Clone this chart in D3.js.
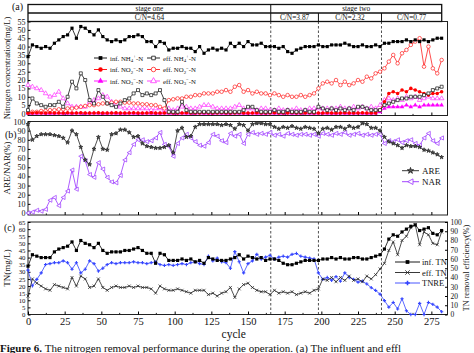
<!DOCTYPE html>
<html><head><meta charset="utf-8">
<script src="https://cdn.jsdelivr.net/npm/d3@7"></script>
<style>body{margin:0;background:#fff}svg{display:block}svg text{font-family:"Liberation Serif","DejaVu Serif","Times New Roman",serif !important;fill:#111}</style>
</head><body><svg id="c" width="474" height="353"></svg>
<script>
const cycles=[0,3,6,9,12,15,18,21,24,27,30,33,36,39,42,45,48,51,54,57,60,63,66,69,72,75,78,81,84,87,90,93,96,99,102,105,108,111,114,117,120,123,126,129,132,135,138,141,144,147,150,153,156,159,162,165,168,171,174,177,180,183,186,189,192,195,198,201,204,207,210,213,216,219,222,225,228,231,234,237,240,243,246,249,252,255,258,261,264,267,270,273,276,279,282];
const infNH4=[34,41,40,39,40,39,42,44,46,47, 51,45,52,51,49,47,50,46,44,43, 44,43,44,46,46,47,46,43,43,40, 43,42,38,39,39,40,39,39,37,40, 36,38,39,38,39,38,42,40,42,40, 43,41,41,42,40,40,40,39,40,37, 36,38,39,40,40,40,41,40,40,41, 41,41,42,41,40,40,41,40,40,41, 40,42,42,43,43,43,44,43,44,43, 44,43,44,45,45];
const effNH4=[2,9,6,5,4,5,5,7,4,10, 19,15,24,20,8,6,14,10,6,5, 4,6,8,9,12,14,11,12,11,12, 14,8,1,1,1,7,2,1,1,1, 1,1,1,1,1,1,1,1,1,2, 4,4,2,1,1,1,2,1,1,2, 1,1,1,2,1,1,4,3,2,3, 2,3,2,3,2,4,4,3,2,2, 2,5,6,7,8,9,9,10,10,10, 11,12,14,15,16];
const infNO2=[0.3,0.3,0.4,0.3,0.3,0.4,0.3,0.3,0.3,0.4, 0.3,0.3,0.4,0.3,0.3,0.3,0.4,0.3,0.3,0.3, 0.4,0.3,0.3,0.3,0.4,0.3,0.3,0.3,0.4,0.3, 0.3,0.3,0.4,0.3,0.3,0.3,0.4,0.3,0.3,0.3, 0.4,0.3,0.3,0.3,0.4,0.3,0.3,0.3,0.4,0.3, 0.3,0.3,0.4,0.3,0.3,0.3,0.4,0.3,0.3,0.3, 0.4,0.3,0.3,0.3,0.4,0.3,0.3,0.3,0.4,0.3, 0.3,0.3,0.4,0.3,0.3,0.3,0.4,0.3,0.3,0.3, 2,7,12,13,12,14,13,15,14,13, 12,11,12,12,13];
const effNO2=[0.5,1,1,1.5,1.5,2,2,2.5,2.5,3, 3,3.5,4,4.5,5,5,5.5,6,6,6.5, 7,7,6.5,6.5,6,6,5.5,5.5,5,5, 4,3,8,8.5,9,9,10,10,11,11, 12,12,12,13,13,14,13,16,17,13, 14,12,13,12,12,11,12,11,10,11, 10,10,11,10,11,12,15,18,19,18, 20,17,19,17,18,20,19,22,21,24, 25,27,31,35,30,36,38,41,43,45, 28,40,27,24,32];
const infNO3=[0.1,0.1,0.1,0.2,0.1,0.1,0.1,0.2,0.1,0.1, 0.1,0.2,0.1,0.1,0.1,0.2,0.1,0.1,0.1,0.2, 0.1,0.1,0.1,0.2,0.1,0.1,0.1,0.2,0.1,0.1, 0.1,0.2,0.1,0.1,0.1,0.2,0.1,0.1,0.1,0.2, 0.1,0.1,0.1,0.2,0.1,0.1,0.1,0.2,0.1,0.1, 0.1,0.2,0.1,0.1,0.1,0.2,0.1,0.1,0.1,0.2, 0.1,0.1,0.1,0.2,0.1,0.1,0.1,0.2,0.1,0.1, 0.1,0.2,0.1,0.1,0.1,0.2,0.1,0.1,0.1,0.2, 1,3,4,4,4,4,5,4,5,4, 5,5,5,5,5];
const effNO3=[17,16,15,14,12,10,11,13,9,6, 4,4,4,4,7,8,9,11,10,7, 5,4,3,3,3,3,3,3,2,3, 3,2,3,2,3,4,4,3,3,4, 5,5,4,3,3,3,3,4,5,3, 3,3,2,3,3,2,2,3,2,2, 2,3,2,2,3,3,3,3,3,3, 3,4,3,3,4,3,4,3,4,3, 5,8,9,8,9,8,10,9,10,8, 9,10,9,9,9];
const ARE=[97,80,84,86,86,86,85,84,82,77, 90,86,72,58,53,70,83,70,69,86, 87,91,91,88,83,84,76,73,72,71, 71,72,74,66,90,93,83,84,94,97, 97,97,97,97,96,97,96,92,97,96, 90,97,98,98,97,97,94,92,94,93, 95,93,92,94,93,92,87,92,93,91, 94,94,92,95,93,94,98,97,93,93, 90,83,78,76,74,71,74,73,73,72, 69,68,66,64,61];
const NAR=[0,1,3,2,4,14,17,8,17,24, 47,26,62,57,42,39,55,48,39,34, 33,41,58,66,75,80,80,78,79,82, 88,75,73,62,76,82,86,82,78,74, 73,77,86,84,79,77,87,84,86,76, 86,88,86,87,86,88,85,86,84,87, 86,85,86,86,85,86,84,87,86,85, 87,86,88,85,86,87,85,86,85,86, 86,76,79,78,80,77,79,80,76,74, 82,87,79,76,82];
const infTN=[34,42,41,40,40,40,44,46,47,48, 51,45,52,50,49,47,50,45,43,44, 44,44,45,45,46,47,45,43,43,36, 43,42,38,38,38,39,38,39,37,38, 36,40,39,38,38,38,39,40,42,39, 41,40,39,40,38,39,39,38,36,35, 35,36,37,38,38,38,38,39,39,40, 39,40,39,39,40,40,39,39,40,41, 42,46,53,56,55,58,60,62,63,59, 60,61,57,56,59];
const effTN=[13,25,22,20,18,17,21,20,19,18, 26,20,27,25,19,20,25,19,17,19, 20,19,19,20,19,20,19,19,18,15, 20,18,17,17,18,17,16,15,17,17, 17,14,15,13,15,16,19,12,18,21, 22,19,17,16,16,14,17,15,16,15, 16,14,15,16,15,17,18,25,24,26, 23,26,24,27,24,25,23,27,25,28, 32,36,45,51,42,52,55,61,63,49, 58,56,50,49,58];
const TNRE=[48,31,38,45,54,55,56,56,58,56, 49,56,45,49,58,55,47,50,54,56, 55,56,56,56,57,56,56,55,56,57, 54,53,54,53,54,55,54,56,57,55, 54,63,58,61,57,56,50,68,57,45, 55,58,65,60,62,64,60,62,63,62, 65,66,63,62,61,60,45,38,40,37, 41,36,45,40,38,35,36,33,29,26, 22,15,8,13,6,17,4,0,0,12, 0,13,11,8,3];
const stageBreaks=[165.5,198,241];
const stageLabels=["stage one","stage two"];
const cnLabels=["C/N=4.64","C/N=3.87","C/N=2.32","C/N=0.77"];
const xTicks=[0,25,50,75,100,125,150,175,200,225,250,275];
const xMinor=[12.5,37.5,62.5,87.5,112.5,137.5,162.5,187.5,212.5,237.5,262.5];
const yTicksA=[0,5,10,15,20,25,30,35,40,45,50,55];
const yTicksB=[0,10,20,30,40,50,60,70,80,90,100];
const yTicksC=[0,5,10,15,20,25,30,35,40,45,50,55,60,65];
const yTicksR=[0,10,20,30,40,50,60,70,80,90,100];

const FONT='"Liberation Serif","DejaVu Serif",serif';
const svg=d3.select("#c");
const x=d3.scaleLinear([0,286],[28,447.5]);
const yA=d3.scaleLinear([0,55],[113.5,21.5]);
const yB=d3.scaleLinear([0,100],[213,121.5]);
const yC=d3.scaleLinear([0,65],[314.5,222]);
const yR=d3.scaleLinear([0,100],[314.5,222]);
const frames=[{t:21.5,b:115.5},{t:121.5,b:215},{t:222,b:314.5}];

const leftTri={draw(c,s){const r=Math.sqrt(s)/1.6;c.moveTo(-r,0);c.lineTo(r*0.9,-r);c.lineTo(r*0.9,r);c.closePath();}};
const xMark={draw(c,s){const r=Math.sqrt(s)/2;c.moveTo(-r,-r);c.lineTo(r,r);c.moveTo(-r,r);c.lineTo(r,-r);}};

function txt(sel){return sel.style("font-family",FONT);}

frames.forEach((f,i)=>{
  svg.append("rect").attr("x",x(0)).attr("y",f.t).attr("width",x(286)-x(0)).attr("height",f.b-f.t).attr("fill","none").attr("stroke","#222").attr("stroke-width",1);
  const ax=svg.append("g").attr("transform",`translate(0,${f.b})`).call(d3.axisBottom(x).tickValues(xTicks).tickSize(-3).tickPadding(3.5).tickFormat(i===2?d3.format("d"):""));
  ax.select(".domain").remove();
  txt(ax.selectAll("text").attr("font-size",10.5));
  svg.append("g").selectAll("line").data(xMinor).join("line").attr("x1",d=>x(d)).attr("x2",d=>x(d)).attr("y1",f.b).attr("y2",f.b-1.6).attr("stroke","#222");
  svg.append("g").selectAll("line").data(stageBreaks).join("line").attr("x1",d=>x(d)).attr("x2",d=>x(d)).attr("y1",f.t).attr("y2",f.b).attr("stroke","#222").attr("stroke-width",0.8).attr("stroke-dasharray","2.5,2");
});
function leftAxis(y,ticks,fs){
  const g=svg.append("g").attr("transform",`translate(${x(0)},0)`).call(d3.axisLeft(y).tickValues(ticks).tickSize(-2.5).tickPadding(2.5));
  g.select(".domain").remove();
  txt(g.selectAll("text").attr("font-size",fs));
}
leftAxis(yA,yTicksA,8);
leftAxis(yB,yTicksB,8);
leftAxis(yC,yTicksC,6.8);
const gr=svg.append("g").attr("transform",`translate(${x(286)},0)`).call(d3.axisRight(yR).tickValues(yTicksR).tickSize(-2.5).tickPadding(3));
gr.select(".domain").remove();txt(gr.selectAll("text").attr("font-size",7.5));

function series(yv,yS,color,sym,size,fill,stroke,lw){
  const g=svg.append("g");
  const pts=cycles.map((c,i)=>[c,yv[i]]);
  g.append("path").datum(pts).attr("d",d3.line(d=>x(d[0]),d=>yS(d[1]))).attr("fill","none").attr("stroke",color).attr("stroke-width",lw||0.8);
  g.selectAll("path.m").data(pts).join("path").attr("class","m")
   .attr("transform",d=>`translate(${x(d[0])},${yS(d[1])})`).attr("d",d3.symbol(sym,size)())
   .attr("fill",fill).attr("stroke",stroke).attr("stroke-width",0.7);
}
series(effNO3,yA,"#FF33FF",d3.symbolTriangle,9,"#fff","#FF33FF");
series(infNO3,yA,"#FF00FF",d3.symbolTriangle,9,"#FF00FF","none");
series(effNO2,yA,"#FF2020",d3.symbolCircle,10,"#fff","#FF2020");
series(infNO2,yA,"#FF0000",d3.symbolCircle,10,"#FF0000","none");
series(effNH4,yA,"#111",d3.symbolSquare,9,"#fff","#111");
series(infNH4,yA,"#000",d3.symbolSquare,10,"#000","none");
series(NAR,yB,"#9933FF",leftTri,11,"#fff","#9933FF");
series(ARE,yB,"#222",d3.symbolStar,5,"#555","#222");
series(TNRE,yR,"#3344FF",d3.symbolCross,6,"#3344FF","none");
series(effTN,yC,"#222",xMark,9,"none","#222");
series(infTN,yC,"#000",d3.symbolSquare,10,"#000","none");

const hx0=x(0),hx1=441.7,ht=4.5,hm=13,hb=21.5;
svg.append("rect").attr("x",hx0).attr("y",ht).attr("width",hx1-hx0).attr("height",hb-ht).attr("fill","#fff").attr("stroke","#111").attr("stroke-width",1.3);
svg.append("line").attr("x1",hx0).attr("x2",hx1).attr("y1",hm).attr("y2",hm).attr("stroke","#111").attr("stroke-width",1.3);
svg.append("line").attr("x1",x(stageBreaks[0])).attr("x2",x(stageBreaks[0])).attr("y1",ht).attr("y2",hb).attr("stroke","#111").attr("stroke-width",1);
[stageBreaks[1],stageBreaks[2]].forEach(b=>svg.append("line").attr("x1",x(b)).attr("x2",x(b)).attr("y1",hm).attr("y2",hb).attr("stroke","#111").attr("stroke-width",1));
const sb=[hx0,x(stageBreaks[0]),hx1];
stageLabels.forEach((s,i)=>txt(svg.append("text").attr("x",(sb[i]+sb[i+1])/2).attr("y",hm-1.8).attr("text-anchor","middle").attr("font-size",7.4).text(s)));
const cb=[hx0,x(stageBreaks[0]),x(stageBreaks[1]),x(stageBreaks[2]),hx1];
cnLabels.forEach((s,i)=>txt(svg.append("text").attr("x",(cb[i]+cb[i+1])/2).attr("y",hb-2).attr("text-anchor","middle").attr("font-size",7.4).text(s)));

function vtext(tx,ty,s,fs){txt(svg.append("text").attr("transform",`translate(${tx},${ty}) rotate(-90)`).attr("text-anchor","middle").attr("font-size",fs).text(s));}
vtext(10,68,"Nitrogen concentration(mg/L)",8.5);
vtext(10,168,"ARE/NAR(%)",9);
vtext(10,268,"TN(mg/L)",9);
vtext(469,268,"TN removal efficiency(%)",8.2);
txt(svg.append("text").attr("x",12).attr("y",10).attr("font-size",10).text("(a)"));
txt(svg.append("text").attr("x",5).attr("y",138).attr("font-size",10).text("(b)"));
txt(svg.append("text").attr("x",4).attr("y",231).attr("font-size",10).text("(c)"));
txt(svg.append("text").attr("x",(x(0)+x(286))/2-4).attr("y",338).attr("text-anchor","middle").attr("font-size",11.5).text("cycle"));
const cap=txt(svg.append("text").attr("x",0).attr("y",351.5).attr("font-size",11));
cap.append("tspan").attr("font-weight","bold").text("Figure 6. ");
cap.append("tspan").text("The nitrogen removal performance during the operation. (a) The influent and effl");

function legSym(lx,ly,len,color,sym,size,fill,stroke){
  svg.append("line").attr("x1",lx).attr("x2",lx+len).attr("y1",ly).attr("y2",ly).attr("stroke",color).attr("stroke-width",0.9);
  svg.append("path").attr("transform",`translate(${lx+len/2},${ly})`).attr("d",d3.symbol(sym,size)()).attr("fill",fill).attr("stroke",stroke).attr("stroke-width",0.8);
}
function chemLabel(tx,ty,pre,sub,sup){
  const t=txt(svg.append("text").attr("x",tx).attr("y",ty+2.5).attr("font-size",6.8));
  t.append("tspan").text(pre);
  t.append("tspan").attr("font-size",4.8).attr("dy",1.5).text(sub);
  t.append("tspan").attr("font-size",4.8).attr("dy",-4).text(sup);
  t.append("tspan").attr("dy",2.5).text("-N");
}
const legA=[
 ["inf. NH","4","+","#000",d3.symbolSquare,14,"#000","none"],
 ["eff. NH","4","+","#111",d3.symbolSquare,13,"#fff","#111"],
 ["inf. NO","2","−","#FF0000",d3.symbolCircle,16,"#FF0000","none"],
 ["eff. NO","2","−","#FF2020",d3.symbolCircle,16,"#fff","#FF2020"],
 ["inf. NO","3","−","#FF00FF",d3.symbolTriangle,15,"#FF00FF","none"],
 ["eff. NO","3","−","#FF33FF",d3.symbolTriangle,15,"#fff","#FF33FF"]];
legA.forEach((d,i)=>{
  const col=i%2,row=Math.floor(i/2);
  const lx=col?147:94, ly=58+row*11.5;
  legSym(lx,ly,13,d[3],d[4],d[5],d[6],d[7]);
  chemLabel(lx+16,ly,d[0],d[1],d[2]);
});
legSym(402,170.7,17,"#222",d3.symbolStar,12,"#555","#222");
txt(svg.append("text").attr("x",422).attr("y",174).attr("font-size",9).text("ARE"));
legSym(402,181.7,17,"#9933FF",leftTri,20,"#fff","#9933FF");
txt(svg.append("text").attr("x",422).attr("y",185).attr("font-size",9).text("NAR"));
legSym(395,262,25,"#000",d3.symbolSquare,14,"#000","none");
txt(svg.append("text").attr("x",422).attr("y",265).attr("font-size",8.5).text("inf. TN"));
legSym(395,272.5,25,"#222",xMark,20,"none","#222");
txt(svg.append("text").attr("x",422).attr("y",275.5).attr("font-size",8.5).text("eff. TN"));
legSym(395,283,25,"#3344FF",d3.symbolCross,12,"#3344FF","none");
txt(svg.append("text").attr("x",422).attr("y",286).attr("font-size",8.5).text("TNRE"));
</script></body></html>
